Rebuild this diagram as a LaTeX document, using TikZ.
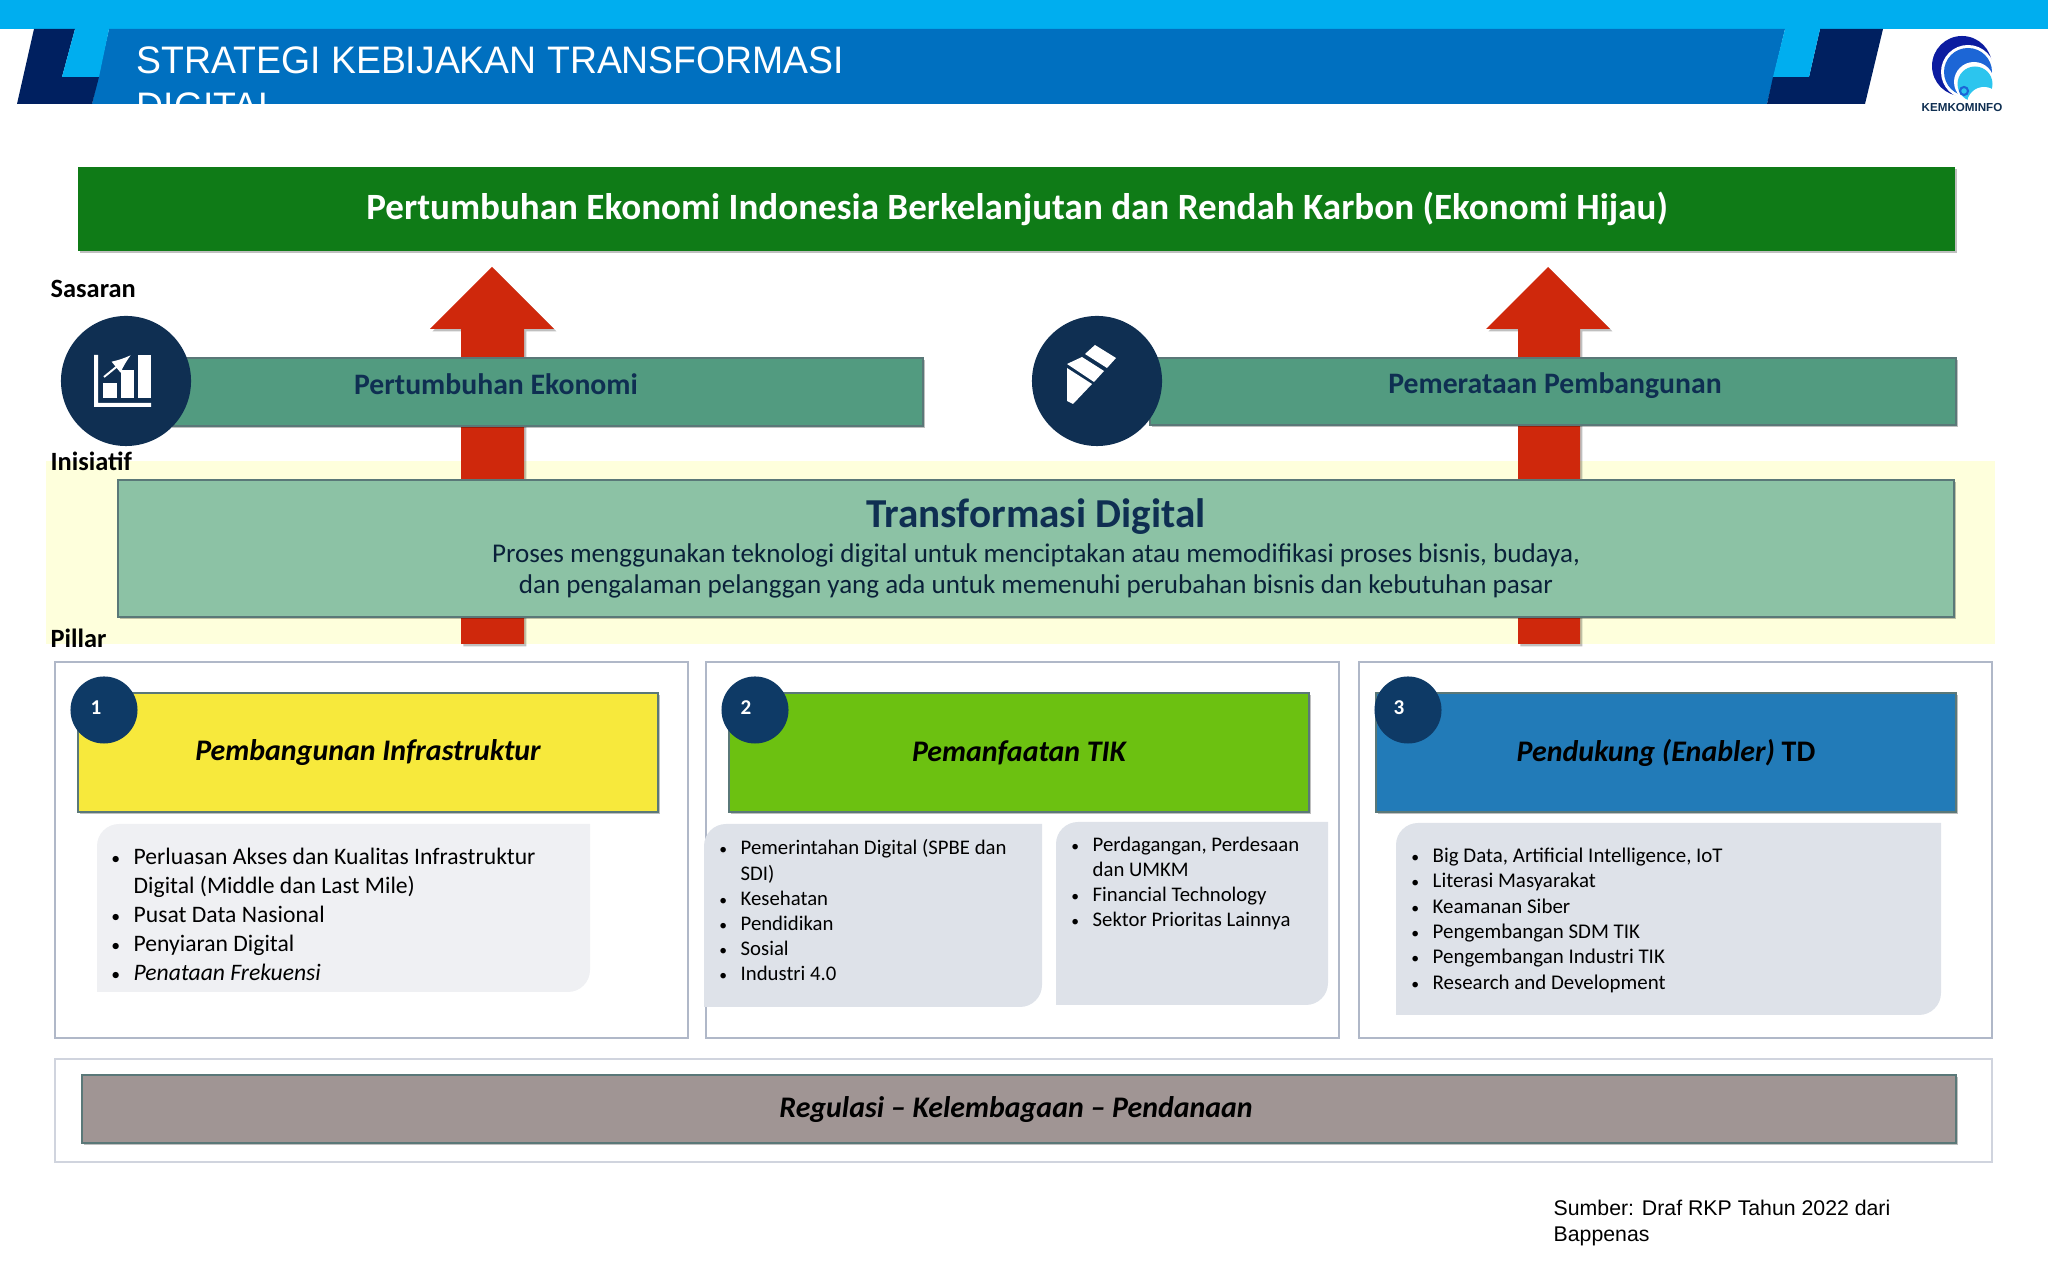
\documentclass[tikz,border=0pt]{standalone}
\usepackage{fontspec}
\setmainfont{Carlito}
\newfontfamily\arialfont{Liberation Sans}
\newfontfamily\titlefont[FakeStretch=0.975]{Liberation Sans}
\usepackage{tikz}
\usetikzlibrary{arrows.meta,shadows,positioning}
\definecolor{BandSky}{RGB}{0,174,239}
\definecolor{BandBlue}{RGB}{0,112,192}
\definecolor{BandNavy}{RGB}{0,32,96}
\definecolor{GoalGreen}{RGB}{15,123,23}
\definecolor{TealBar}{RGB}{82,155,128}
\definecolor{MintBox}{RGB}{140,194,165}
\definecolor{InkNavy}{RGB}{15,47,82}
\definecolor{BadgeNavy}{RGB}{14,58,102}
\definecolor{ArrowRed}{RGB}{207,40,12}
\definecolor{HaloYellow}{RGB}{254,255,220}
\definecolor{PillarYellow}{RGB}{247,233,60}
\definecolor{PillarGreen}{RGB}{108,193,17}
\definecolor{PillarBlue}{RGB}{34,123,184}
\definecolor{BaseGrey}{RGB}{160,149,148}
\definecolor{SoftGrey}{RGB}{239,240,243}
\definecolor{SoftBlue}{RGB}{222,226,233}
\definecolor{FrameGrey}{RGB}{176,184,200}
\definecolor{LineTeal}{RGB}{90,120,120}
\definecolor{LogoDeep}{RGB}{12,28,160}
\definecolor{LogoMid}{RGB}{28,102,214}
\definecolor{LogoCyan}{RGB}{44,197,238}
\tikzset{
  softshadow/.style={drop shadow={shadow xshift=0.7pt,shadow yshift=-0.7pt,opacity=0.25,fill=black}},
  bar/.style={draw=LineTeal,line width=0.3pt,softshadow},
  frame/.style={draw=FrameGrey,line width=0.4pt},
  sidelabel/.style={anchor=west,inner sep=0pt,font=\fontsize{7.5}{9}\selectfont\bfseries},
  bartext/.style={inner sep=0pt,text=InkNavy,font=\fontsize{8.45}{10}\selectfont\bfseries},
  pillartext/.style={inner sep=0pt,font=\fontsize{8.5}{10}\selectfont\bfseries\itshape},
  badge/.style={circle,fill=BadgeNavy,minimum size=0.67cm,inner sep=0pt},
  badgenum/.style={inner sep=0pt,text=white,font=\fontsize{6}{7}\selectfont\bfseries},
  sasaranicon/.style={circle,fill=InkNavy,minimum size=1.3cm,inner sep=0pt},
  listtext/.style={anchor=north west,inner sep=0pt,align=left}
}
\newcommand{\bul}{\makebox[0pt][r]{\scalebox{0.75}{\textbullet}\hspace{1.35mm}}}
\begin{document}
\begin{tikzpicture}[x=0.01cm,y=-0.01cm,>=Latex]
  \useasboundingbox (0,0) rectangle (2048,1280);
  % header
  \fill[BandSky] (0,0) rectangle (2048,29);
  \fill[BandBlue] (109,29) -- (1785,29) -- (1767,104) -- (92,104) -- cycle;
  \fill[BandNavy] (34,29) -- (75,29) -- (62,77) -- (99,77) -- (92,104) -- (17,104) -- cycle;
  \fill[BandSky] (75,29) -- (109,29) -- (99,77) -- (62,77) -- cycle;
  \fill[BandNavy] (1820,29) -- (1883,29) -- (1865,104) -- (1767,104) -- (1773,77) -- (1809,77) -- cycle;
  \fill[BandSky] (1785,29) -- (1820,29) -- (1809,77) -- (1773,77) -- cycle;
  \begin{scope}
    \clip (92,29) rectangle (1767,104);
    \node[anchor=north west,inner sep=0pt,align=left,text=white,
      font=\titlefont\fontsize{10.9}{13}\selectfont] (title) at (136,46)
      {STRATEGI\ KEBIJAKAN\ TRANSFORMASI\\DIGITAL};
  \end{scope}
  % logo
  \fill[LogoDeep] (1962,66) circle (30);
  \fill[white] (1968,72) circle (27);
  \fill[LogoMid] (1968,72) circle (24);
  \fill[white] (1974,82) circle (20);
  \fill[LogoCyan] (1975,84) circle (17.5);
  \fill[white] (1984,104) circle (17);
  \draw[LogoMid,line width=0.6pt] (1964,91) circle (4);
  \node[inner sep=0pt,text=InkNavy,font=\arialfont\fontsize{3.3}{5}\selectfont\bfseries] (logotext) at (1962,108) {KEMKOMINFO};
  % yellow strip and red arrows
  \fill[HaloYellow] (46,461) rectangle (1995,644);
  \fill[ArrowRed,softshadow] (492,267) -- (554,329) -- (524,329) -- (524,644) -- (461,644) -- (461,329) -- (430,329) -- cycle;
  \fill[ArrowRed,softshadow] (1548,267) -- (1610,329) -- (1580,329) -- (1580,644) -- (1518,644) -- (1518,329) -- (1486,329) -- cycle;
  % top bar
  \fill[GoalGreen,softshadow] (78,167) rectangle (1955,251);
  \node[inner sep=0pt,text=white,font=\fontsize{10.54}{12}\selectfont\bfseries] (goal) at (1017,209)
    {Pertumbuhan Ekonomi Indonesia Berkelanjutan dan Rendah Karbon (Ekonomi Hijau)};
  % side labels
  \node[sidelabel] (sasaran) at (50,289) {Sasaran};
  \node[sidelabel] (inisiatif) at (50,461) {Inisiatif};
  \node[sidelabel] (pillar) at (50,638) {Pillar};
  % sasaran bars
  \draw[bar,fill=TealBar] (170,358) rectangle (923,426);
  \draw[bar,fill=TealBar] (1150,358) rectangle (1956,425);
  \node[bartext] (growth) at (496,384) {Pertumbuhan Ekonomi};
  \node[bartext] (equity) at (1555,386) {Pemerataan Pembangunan};
  \node[sasaranicon] (growthicon) at (126,381) {};
  \node[sasaranicon] (equityicon) at (1097,381) {};
  % icon, chart
  \fill[white] (94,355) -- (98,355) -- (98,403) -- (151,403) -- (151,407) -- (94,407) -- cycle;
  \fill[white] (103,383) rectangle (117,398);
  \fill[white] (121,370) rectangle (134,398);
  \fill[white] (138,355) rectangle (151,398);
  \draw[->,white,line width=0.55pt] (104,377) -- (131,355);
  % icon, pen
  \fill[white] (1095,345) -- (1116,358) -- (1107,368) -- (1085,354) -- cycle;
  \fill[white] (1082,357) -- (1104,371) -- (1094,382) -- (1067,364) -- cycle;
  \fill[white] (1067,368) -- (1092,384) -- (1073,404) -- (1067,401) -- cycle;
  % initiative box
  \draw[bar,fill=MintBox] (118,480) rectangle (1954,617);
  \node[inner sep=0pt,text=InkNavy,font=\fontsize{11.7}{13}\selectfont\bfseries] (transform) at (1036,517) {Transformasi Digital};
  \node[below=4.2pt of transform.base,inner sep=0pt,align=center,text=InkNavy!70!black,font=\fontsize{7.7}{8.9}\selectfont] (transformtext)
    {Proses menggunakan teknologi digital untuk menciptakan atau memodifikasi proses bisnis, budaya,\\
     dan pengalaman pelanggan yang ada untuk memenuhi perubahan bisnis dan kebutuhan pasar};
  % pillar frames
  \draw[frame] (55,662) rectangle (688,1038);
  \draw[frame] (706,662) rectangle (1339,1038);
  \draw[frame] (1359,662) rectangle (1992,1038);
  \draw[bar,fill=PillarYellow] (78,693) rectangle (658,812);
  \draw[bar,fill=PillarGreen] (729,693) rectangle (1309,812);
  \draw[bar,fill=PillarBlue] (1376,693) rectangle (1956,812);
  \node[pillartext] (infra) at (368,753) {Pembangunan Infrastruktur};
  \node[pillartext] (tik) at (1019,753) {Pemanfaatan TIK};
  \node[pillartext] (enabler) at (1666,753) {Pendukung (Enabler)\/ \upshape TD};
  \node[badge] (one) at (104,710) {};
  \node[badge] (two) at (755,710) {};
  \node[badge] (three) at (1408,710) {};
  \node[badgenum] (onenum) at (96,708) {1};
  \node[badgenum] (twonum) at (746,708) {2};
  \node[badgenum] (threenum) at (1399,708) {3};
  % list cards
  \fill[SoftGrey] (97,846) arc (180:270:22) -- (590,824) -- (590,970) arc (0:90:22) -- (97,992) -- cycle;
  \fill[SoftBlue] (704,846) arc (180:270:22) -- (1042,824) -- (1042,985) arc (0:90:22) -- (704,1007) -- cycle;
  \fill[SoftBlue] (1056,844) arc (180:270:22) -- (1328,822) -- (1328,983) arc (0:90:22) -- (1056,1005) -- cycle;
  \fill[SoftBlue] (1396,845) arc (180:270:22) -- (1941,823) -- (1941,993) arc (0:90:22) -- (1396,1015) -- cycle;
  \node[listtext,font=\fontsize{6.72}{8.25}\selectfont] (infralist) at (133,847)
    {\bul Perluasan Akses dan Kualitas Infrastruktur\\Digital (Middle dan Last Mile)\\
     \bul Pusat Data Nasional\\\bul Penyiaran Digital\\\bul \itshape Penataan Frekuensi};
  \node[listtext,font=\fontsize{5.9}{7.17}\selectfont] (govlist) at (740,839)
    {\bul Pemerintahan Digital (SPBE dan\\SDI)\\\bul Kesehatan\\\bul Pendidikan\\\bul Sosial\\\bul Industri 4.0};
  \node[listtext,font=\fontsize{5.9}{7.17}\selectfont] (tradelist) at (1092,836)
    {\bul Perdagangan, Perdesaan\\dan UMKM\\\bul Financial Technology\\\bul Sektor Prioritas Lainnya};
  \node[listtext,font=\fontsize{5.95}{7.22}\selectfont] (enablerlist) at (1432,847)
    {\bul Big Data, Artificial Intelligence, IoT\\\bul Literasi Masyarakat\\\bul Keamanan Siber\\
     \bul Pengembangan SDM TIK\\\bul Pengembangan Industri TIK\\\bul Research and Development};
  % base
  \draw[frame,draw=FrameGrey!60] (55,1059) rectangle (1992,1162);
  \draw[bar,fill=BaseGrey] (82,1075) rectangle (1956,1143);
  \node[inner sep=0pt,font=\fontsize{8.5}{10}\selectfont\bfseries\itshape] (base) at (1016,1110) {Regulasi -- Kelembagaan -- Pendanaan};
  % source
  \node[anchor=north west,inner sep=0pt,align=left,font=\arialfont\fontsize{6.05}{7.4}\selectfont] (source) at (1553,1199)
    {Sumber: Draf RKP Tahun 2022 dari\\Bappenas};
\end{tikzpicture}
\end{document}
